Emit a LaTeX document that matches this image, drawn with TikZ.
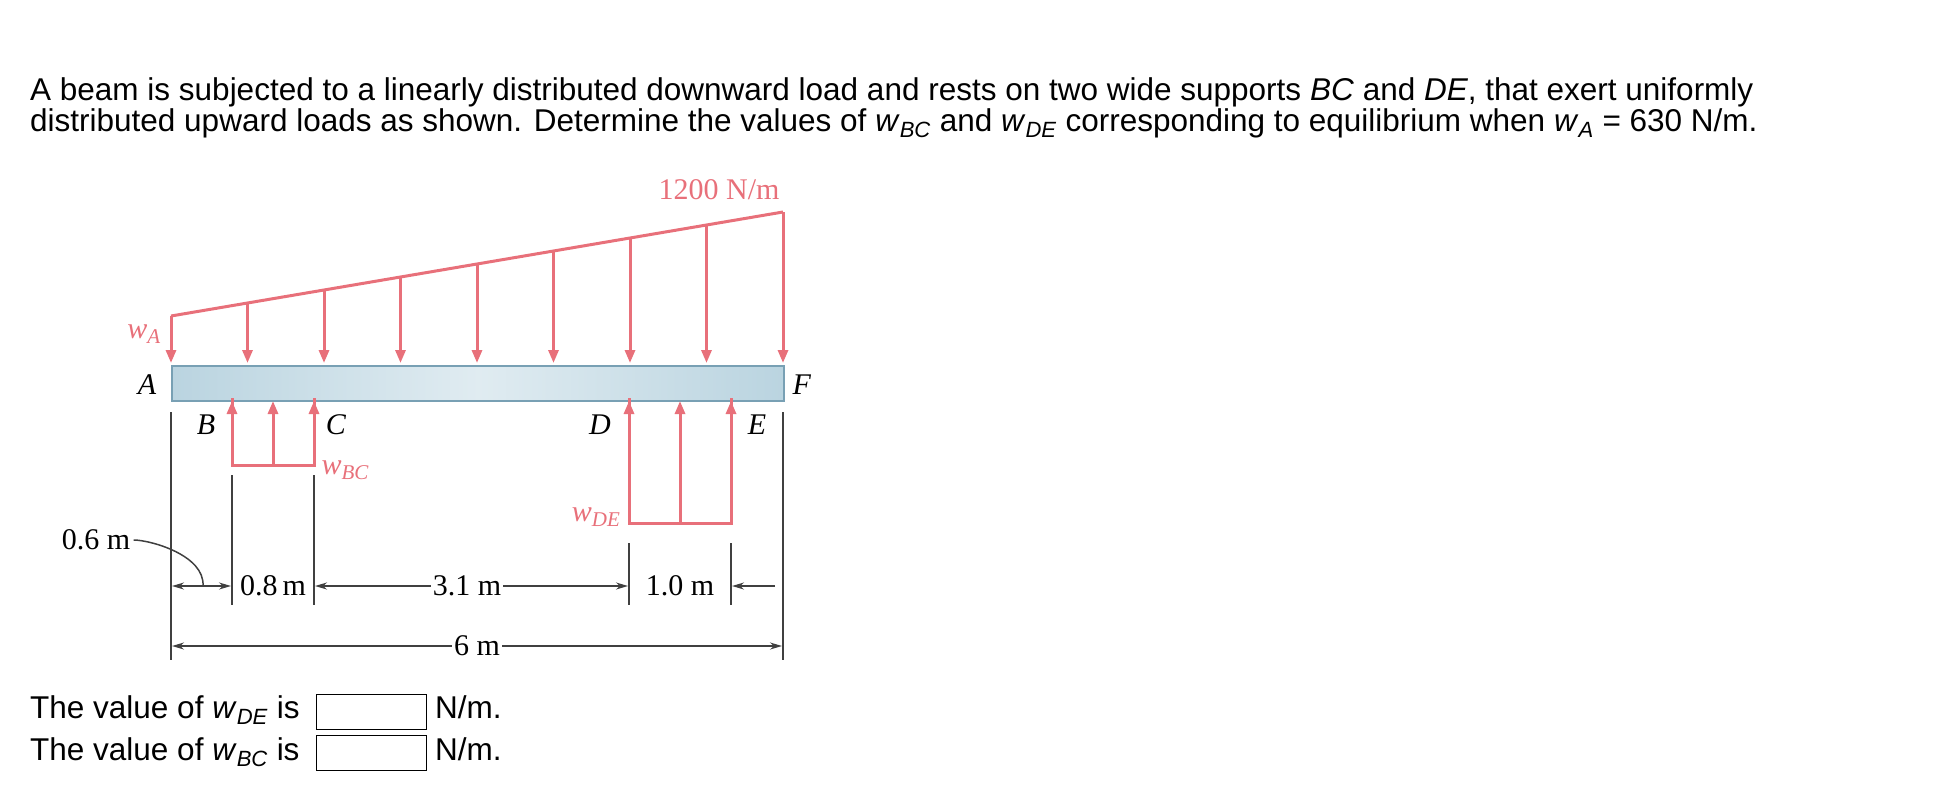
\documentclass[tikz,border=0pt]{standalone}
\usepackage{fontspec}
\setmainfont{Liberation Sans}
\newfontfamily\dfont{Liberation Serif}
\usetikzlibrary{arrows.meta}
\definecolor{ld}{RGB}{232,112,122}
\definecolor{bm}{RGB}{186,212,224}
\definecolor{bmd}{RGB}{120,160,180}
\tikzset{
 load/.style={ld,line width=3pt,-{Triangle[length=13pt,width=10pt]}},
 lbl/.style={font=\dfont\fontsize{30}{32}\selectfont},
 plbl/.style={lbl,ld},
 ext/.style={black!75,line width=1.5pt},
 dim/.style={black!75,line width=1.5pt,{Stealth[length=12pt,width=7pt]}-{Stealth[length=12pt,width=7pt]}},
 txt/.style={font=\fontsize{31.5}{31}\selectfont,anchor=base west,inner sep=0pt},
 ansbox/.style={draw,line width=1.4pt,minimum width=110pt,minimum height=35pt,inner sep=0pt}
}
\newcommand{\wv}[1]{\textit{w}\textsubscript{\textit{#1}}}
\newcommand{\dw}[1]{\textit{w}\textsubscript{\textit{#1}}}
\begin{document}
\begin{tikzpicture}[x=1pt,y=-1pt]
\useasboundingbox (0,0) rectangle (1956,792);
\node[txt] (t1) at (30,100) {A beam is subjected to a linearly distributed downward load and rests on two wide supports \textit{BC} and \textit{DE}, that exert uniformly};
\node[txt] (t2) at (30,131) {distributed upward loads as shown. Determine the values of \wv{BC} and \wv{DE} corresponding to equilibrium when \wv{A} = 630 N/m.};
% beam
\node[draw=bmd,line width=1.5pt,left color=bm,right color=bm,middle color=bm!45,minimum width=612pt,minimum height=35pt,inner sep=0pt,anchor=north west] (beam) at (171,365) {};
% load
\coordinate (LA) at (171,316);
\coordinate (LF) at (783,212);
\draw[ld,line width=3pt] (LA) -- (LF);
\foreach \i in {0,...,8}{
  \pgfmathsetmacro\xx{171+76.5*\i}
  \pgfmathsetmacro\yy{316-13*\i}
  \draw[load] (\xx,\yy) -- (\xx,363);
}
\node[plbl] (l1200) at (719,190) {1200 N/m};
\node[plbl] (wA) at (144,334) {\dw{A}};
\node[lbl] (Al) at (147,385) {\textit{A}};
\node[lbl] (Fl) at (802,385) {\textit{F}};
\node[lbl] (Bl) at (206,425) {\textit{B}};
\node[lbl] (Cl) at (336,425) {\textit{C}};
\node[lbl] (Dl) at (600,425) {\textit{D}};
\node[lbl] (El) at (757,425) {\textit{E}};
% BC support
\draw[ld,line width=3pt] (232,398) |- (314,465) -- (314,398);
\foreach \x in {232,273,314}{\draw[load] (\x,465) -- (\x,401);}
\node[plbl,anchor=west] (wBC) at (318,470) {\dw{BC}};
% DE support
\draw[ld,line width=3pt] (629,398) |- (731,523) -- (731,398);
\foreach \x in {629,680,731}{\draw[load] (\x,523) -- (\x,401);}
\node[plbl,anchor=east] (wDE) at (624,517) {\dw{DE}};
% extension lines
\draw[ext] (171,412) -- (171,660);
\draw[ext] (783,412) -- (783,660);
\draw[ext] (232,475) -- (232,605);
\draw[ext] (314,475) -- (314,605);
\draw[ext] (629,543) -- (629,605);
\draw[ext] (731,543) -- (731,605);
% dimensions
\draw[dim] (172,586) -- (231,586);
\node[lbl] (d08) at (273,586) {0.8\,m};
\node[lbl,fill=white,inner sep=2pt] (d31) at (467,586) {3.1 m};
\draw[ext,-{Stealth[length=12pt,width=7pt]}] (d31.west) -- (315,586);
\draw[ext,-{Stealth[length=12pt,width=7pt]}] (d31.east) -- (628,586);
\node[lbl] (d10) at (680,586) {1.0 m};
\draw[ext,-{Stealth[length=12pt,width=7pt]}] (775,586) -- (732,586);
\node[lbl] (d06) at (96,540) {0.6 m};
\draw[ext] (d06.east) .. controls (150,540) and (205,555) .. (203,586);
\node[lbl,fill=white,inner sep=2pt] (d6) at (477,646) {6 m};
\draw[ext,-{Stealth[length=12pt,width=7pt]}] (d6.west) -- (172,646);
\draw[ext,-{Stealth[length=12pt,width=7pt]}] (d6.east) -- (782,646);
% answer lines
\node[txt] (q1) at (30,718) {The value of \wv{DE} is};
\node[ansbox,anchor=west] (b1) at (316,712) {};
\node[txt] (u1) at (435,718) {N/m.};
\node[txt] (q2) at (30,760) {The value of \wv{BC} is};
\node[ansbox,anchor=west] (b2) at (316,753) {};
\node[txt] (u2) at (435,760) {N/m.};
\end{tikzpicture}
\end{document}
